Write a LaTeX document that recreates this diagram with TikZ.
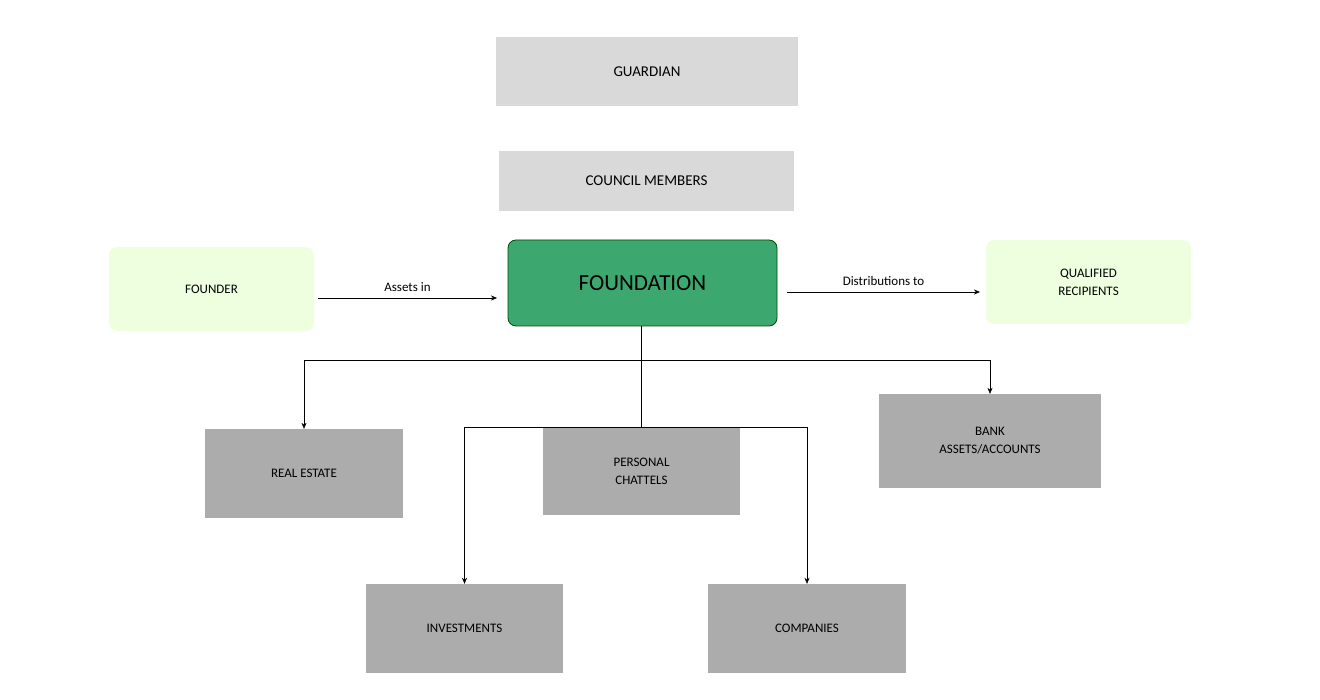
\documentclass[tikz,border=0pt]{standalone}
\usepackage{fontspec}
\setmainfont{Carlito}
\usetikzlibrary{arrows.meta}

\tikzset{
	topbox/.style={fill=gray!30, font=\fontsize{15}{18}\selectfont, inner sep=0pt},
	greenbox/.style={fill=green!40!lime!12, rounded corners=8pt, align=center, font=\fontsize{13}{16}\selectfont, inner sep=0pt},
	assetbox/.style={fill=gray!65, align=center, font=\fontsize{13}{16}\selectfont, inner sep=0pt},
	link/.style={-{Stealth[length=6pt,width=5pt]}, black},
}

\begin{document}
\begin{tikzpicture}[x=1pt,y=-1pt]
	\useasboundingbox (0,0) rectangle (1320,700);

	% top row
	\node[topbox, minimum width=302, minimum height=69] (guardian) at (647,71.5) {GUARDIAN};
	\node[topbox, minimum width=295, minimum height=60] (council) at (646.5,181) {COUNCIL MEMBERS};

	% middle row
	\node[greenbox, minimum width=205, minimum height=84] (founder) at (211.5,289) {FOUNDER};
	\node[fill=green!35!teal!70!gray!90, draw=green!30!black, thick, rounded corners=8pt,
		minimum width=269, minimum height=86, inner sep=0pt,
		font=\fontsize{23}{26}\selectfont] (foundation) at (642.5,283) {FOUNDATION};
	\node[greenbox, minimum width=205, minimum height=84] (recipients) at (1088.5,282) {QUALIFIED\\[2pt]RECIPIENTS};

	\coordinate (fin) at (318,298);
	\coordinate (fout) at (787,292);
	\draw[link] (fin) -- node[above=3pt, font=\fontsize{13}{16}\selectfont] {Assets in} (497,298);
	\draw[link] (fout) -- node[above=3pt, font=\fontsize{13}{16}\selectfont] {Distributions to} (980,292);

	% assets
	\node[assetbox, minimum width=198, minimum height=89] (estate) at (304,473.5) {REAL ESTATE};
	\node[assetbox, minimum width=197, minimum height=87] (chattels) at (641.5,471.5) {PERSONAL\\[2pt]CHATTELS};
	\node[assetbox, minimum width=222, minimum height=94] (bank) at (990,441) {BANK\\[2pt]ASSETS/ACCOUNTS};
	\node[assetbox, minimum width=197, minimum height=89] (invest) at (464.5,628.5) {INVESTMENTS};
	\node[assetbox, minimum width=198, minimum height=89] (companies) at (807,628.5) {COMPANIES};

	% tree
	\coordinate (split) at (641,360);
	\coordinate (lower) at (641,427);
	\draw (foundation.south -| split) -- (lower);
	\draw[link] (split) -| (estate.north);
	\draw[link] (split) -| (bank.north);
	\draw[link] (lower) -| (invest.north);
	\draw[link] (lower) -| (companies.north);
\end{tikzpicture}
\end{document}
